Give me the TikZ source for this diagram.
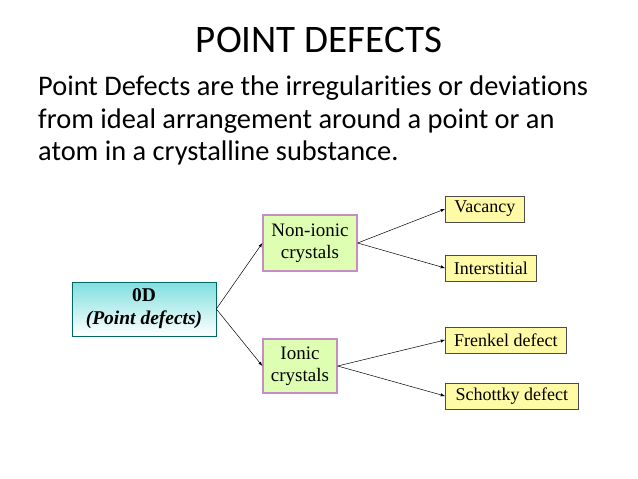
\documentclass[tikz,border=0pt]{standalone}
\usepackage{fontspec}
\setmainfont{Liberation Serif}
\newfontfamily\calfont[Ligatures=NoCommon]{Carlito}
\begin{document}
\begin{tikzpicture}[x=1pt,y=-1pt,
 gbox/.style={draw=violet!45,line width=1.2pt,fill=green!25!lime!30,align=center,font=\fontsize{19}{22}\selectfont,inner sep=2pt},
 ybox/.style={draw=black!70,line width=0.6pt,fill=yellow!35,font=\fontsize{18}{20}\selectfont,anchor=west,inner sep=3pt,minimum height=26pt},
 arr/.style={-latex,line width=0.5pt}]
\useasboundingbox (0,0) rectangle (638,479);
\node[font=\calfont\fontsize{39}{44}\selectfont] (title) at (319,40) {POINT DEFECTS};
\node[anchor=north west,align=left,font=\calfont\fontsize{28.4}{32.5}\selectfont,inner sep=0] (para) at (38,76)
 {Point Defects are the irregularities or deviations\\from ideal arrangement around a point or an\\atom in a crystalline substance.};
\node[draw=teal!80!black,line width=0.6pt,top color=cyan!50!teal!50,bottom color=white,minimum width=144pt,minimum height=54pt,align=center,font=\fontsize{19.5}{23}\selectfont\bfseries] (od) at (144,309) {0D\\\textit{(Point defects)}};
\node[gbox,minimum width=94pt,minimum height=56pt] (ni) at (310,243) {Non-ionic\\crystals};
\node[gbox,minimum width=74pt,minimum height=54pt] (io) at (300,366) {Ionic\\crystals};
\node[ybox,minimum width=79pt] (va) at (445,209) {\hfill Vacancy\hfill};
\node[ybox,minimum width=91pt] (in) at (445,268) {Interstitial};
\node[ybox,minimum width=121pt] (fr) at (445,340) {Frenkel defect};
\node[ybox,minimum width=133pt] (sc) at (445,396) {Schottky defect};
\draw[arr] (od.east) -- (ni.west);
\draw[arr] (od.east) -- (io.west);
\draw[arr] (ni.east) -- (va.west);
\draw[arr] (ni.east) -- (in.west);
\draw[arr] (io.east) -- (fr.west);
\draw[arr] (io.east) -- (sc.west);
\end{tikzpicture}
\end{document}
